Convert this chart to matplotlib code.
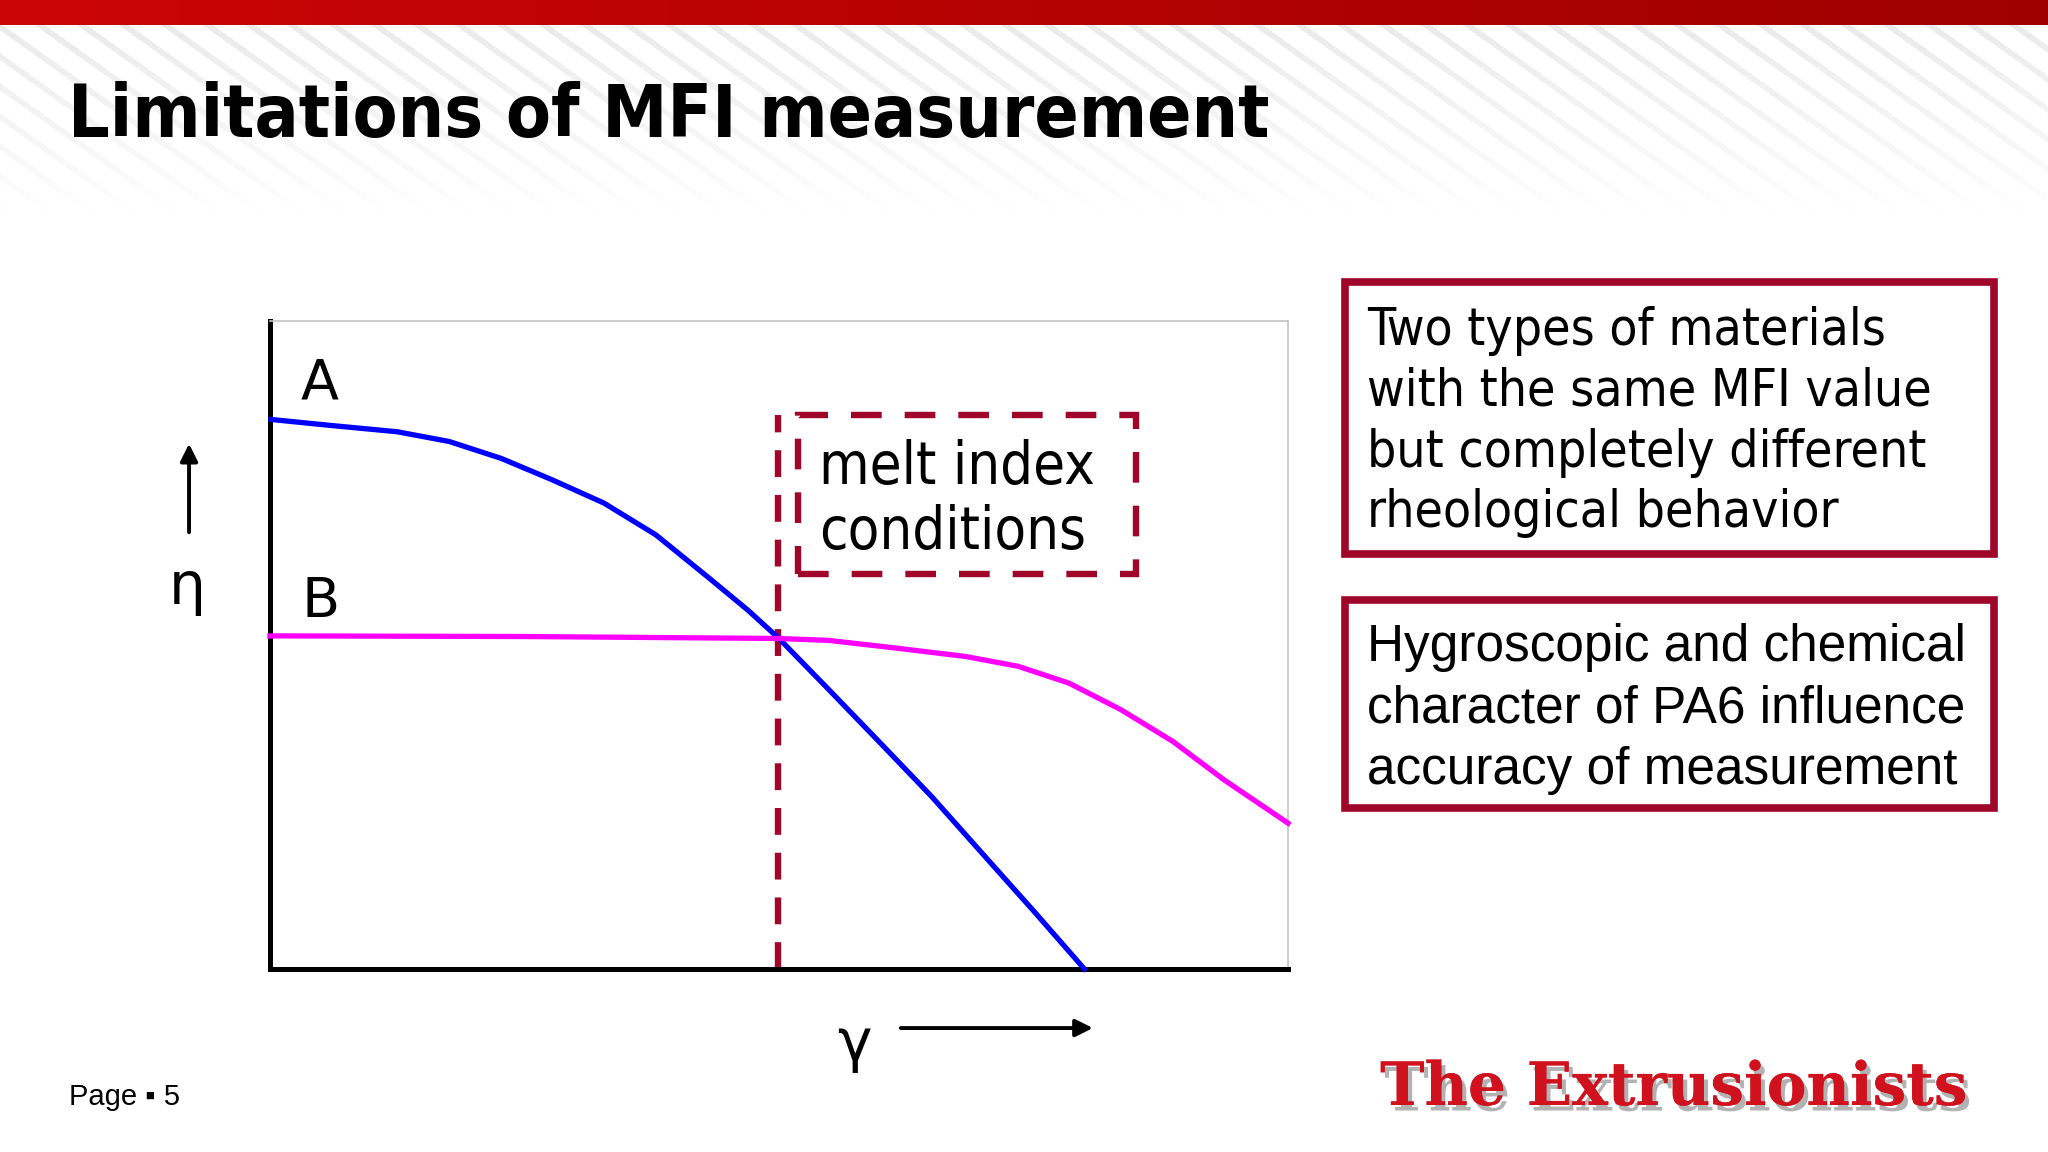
import numpy as np
import matplotlib.pyplot as plt
from matplotlib.patches import Rectangle, FancyArrowPatch
import matplotlib.patheffects as pe

# %%
# Viscosity curves (shear rate and viscosity in arbitrary 0-100 units)
shear_a = [0.1, 5.8, 12.5, 17.6, 22.7, 27.7, 32.8, 37.9, 43.0, 47.0, 50.0,
           54.9, 60.0, 65.0, 70.1, 75.1, 80.0]
visc_a = [84.8, 83.9, 82.9, 81.4, 78.8, 75.5, 71.9, 67.0, 60.5, 55.3, 51.0,
          43.1, 34.8, 26.6, 17.6, 8.8, 0.0]
shear_b = [0.0, 25.0, 49.9, 54.9, 61.6, 68.4, 73.5, 78.5, 83.6, 88.7, 93.7, 100.0]
visc_b = [51.4, 51.3, 51.0, 50.7, 49.5, 48.2, 46.7, 44.1, 40.0, 35.1, 29.2, 22.5]
mfi_shear = 49.9
mfi_top = 85.5

title = "Limitations of MFI measurement"
box1_text = "Two types of materials\nwith the same MFI value\nbut completely different\nrheological behavior"
box2_text = "Hygroscopic and chemical\ncharacter of PA6 influence\naccuracy of measurement"

dark_red = "#a0052a"
W, H = 2048, 1152

fig = plt.figure(figsize=(W / 100, H / 100), dpi=100)

# %%
# Slide background: red bar on top and faded diagonal stripes under it
yy, xx = np.mgrid[0:H, 0:W]
img = np.ones((H, W, 3))
stripe = ((xx - 1.4 * yy) % 42) < 10
fade = np.clip(1 - (yy - 25) / 190.0, 0, 1)
img -= (stripe * fade * 0.08)[..., None]
bar = yy < 25
t = xx / W
img[bar, 0] = (0.80 - 0.18 * t)[bar]
img[bar, 1] = 0.0 + 0.02 * (1 - t[bar])
img[bar, 2] = 0.0 + 0.02 * (1 - t[bar])
bg = fig.add_axes([0, 0, 1, 1], zorder=-10)
bg.imshow(img, extent=[0, 1, 0, 1], aspect="auto")
bg.axis("off")

fig.text(0.0332, 0.881, title, fontsize=52.5, fontweight="bold",
         family="DejaVu Sans", fontstretch="condensed", va="baseline")

# %%
ax = fig.add_axes([0.1318, 0.1589, 0.4971, 0.5625])
ax.set_xlim(0, 100)
ax.set_ylim(0, 100)
ax.set_xticks([])
ax.set_yticks([])
for side in ["left", "bottom"]:
    ax.spines[side].set_linewidth(3.6)
    ax.spines[side].set_color("black")
for side in ["top", "right"]:
    ax.spines[side].set_linewidth(1.2)
    ax.spines[side].set_color("#c4c4c4")

ax.plot(shear_a, visc_a, color="#0000ff", lw=3.8, clip_on=False, zorder=3,
        solid_joinstyle="round")
ax.plot(shear_b, visc_b, color="#ff00ff", lw=3.8, clip_on=False, zorder=3,
        solid_joinstyle="round")
ax.plot([mfi_shear, mfi_shear], [0, mfi_top], color=dark_red, lw=4.6,
        linestyle=(0, (4.2, 2.8)), zorder=2)

ax.add_patch(Rectangle((51.9, 60.9), 33.2, 24.6, fill=False, ec=dark_red, lw=4.6,
                       linestyle=(0, (4.8, 3.6)), clip_on=False))
ax.text(53.9, 72.4, "melt index\nconditions", fontsize=41.6, family="DejaVu Sans",
        fontstretch="condensed", va="center", ha="left", linespacing=1.19)

ax.text(4.9, 90.3, "A", fontsize=40, ha="center", va="center")
ax.text(5.0, 56.7, "B", fontsize=40, ha="center", va="center")

# axis symbols with arrows
fig.text(0.0913, 0.4896, "η", fontsize=42, ha="center", va="center")
fig.text(0.417, 0.0929, "γ", fontsize=42, ha="center", va="center")
fig.add_artist(FancyArrowPatch((0.0923, 0.5356), (0.0923, 0.6172), transform=fig.transFigure,
                               arrowstyle="-|>", mutation_scale=26, lw=2.8, color="black"))
fig.add_artist(FancyArrowPatch((0.4385, 0.1076), (0.535, 0.1076), transform=fig.transFigure,
                               arrowstyle="-|>", mutation_scale=26, lw=2.8, color="black"))

# %%
# Comment boxes on the right
fig.add_artist(Rectangle((0.6567, 0.5191), 0.3169, 0.2361, transform=fig.transFigure,
                         fill=False, ec=dark_red, lw=5.5))
fig.text(0.6675, 0.6336, box1_text, fontsize=37, family="DejaVu Sans",
         fontstretch="condensed", va="center", ha="left", linespacing=1.28)

fig.add_artist(Rectangle((0.6567, 0.2986), 0.3169, 0.181, transform=fig.transFigure,
                         fill=False, ec=dark_red, lw=5.5))
fig.text(0.6675, 0.3846, box2_text, fontsize=37, family="Liberation Sans",
         va="center", ha="left", linespacing=1.34)

# footer
fig.text(0.0337, 0.0477, "Page ▪ 5", fontsize=21, family=["Liberation Sans", "DejaVu Sans"],
         va="center", ha="left")
fig.text(0.8174, 0.0556, "The Extrusionists", fontsize=43, fontweight="bold",
         family="DejaVu Serif", color="#d0121e", ha="center", va="center",
         path_effects=[pe.withSimplePatchShadow(offset=(3, -4), shadow_rgbFace="#666666", alpha=0.5),
                       pe.Normal()])

fig.savefig("out.png", dpi=100)
